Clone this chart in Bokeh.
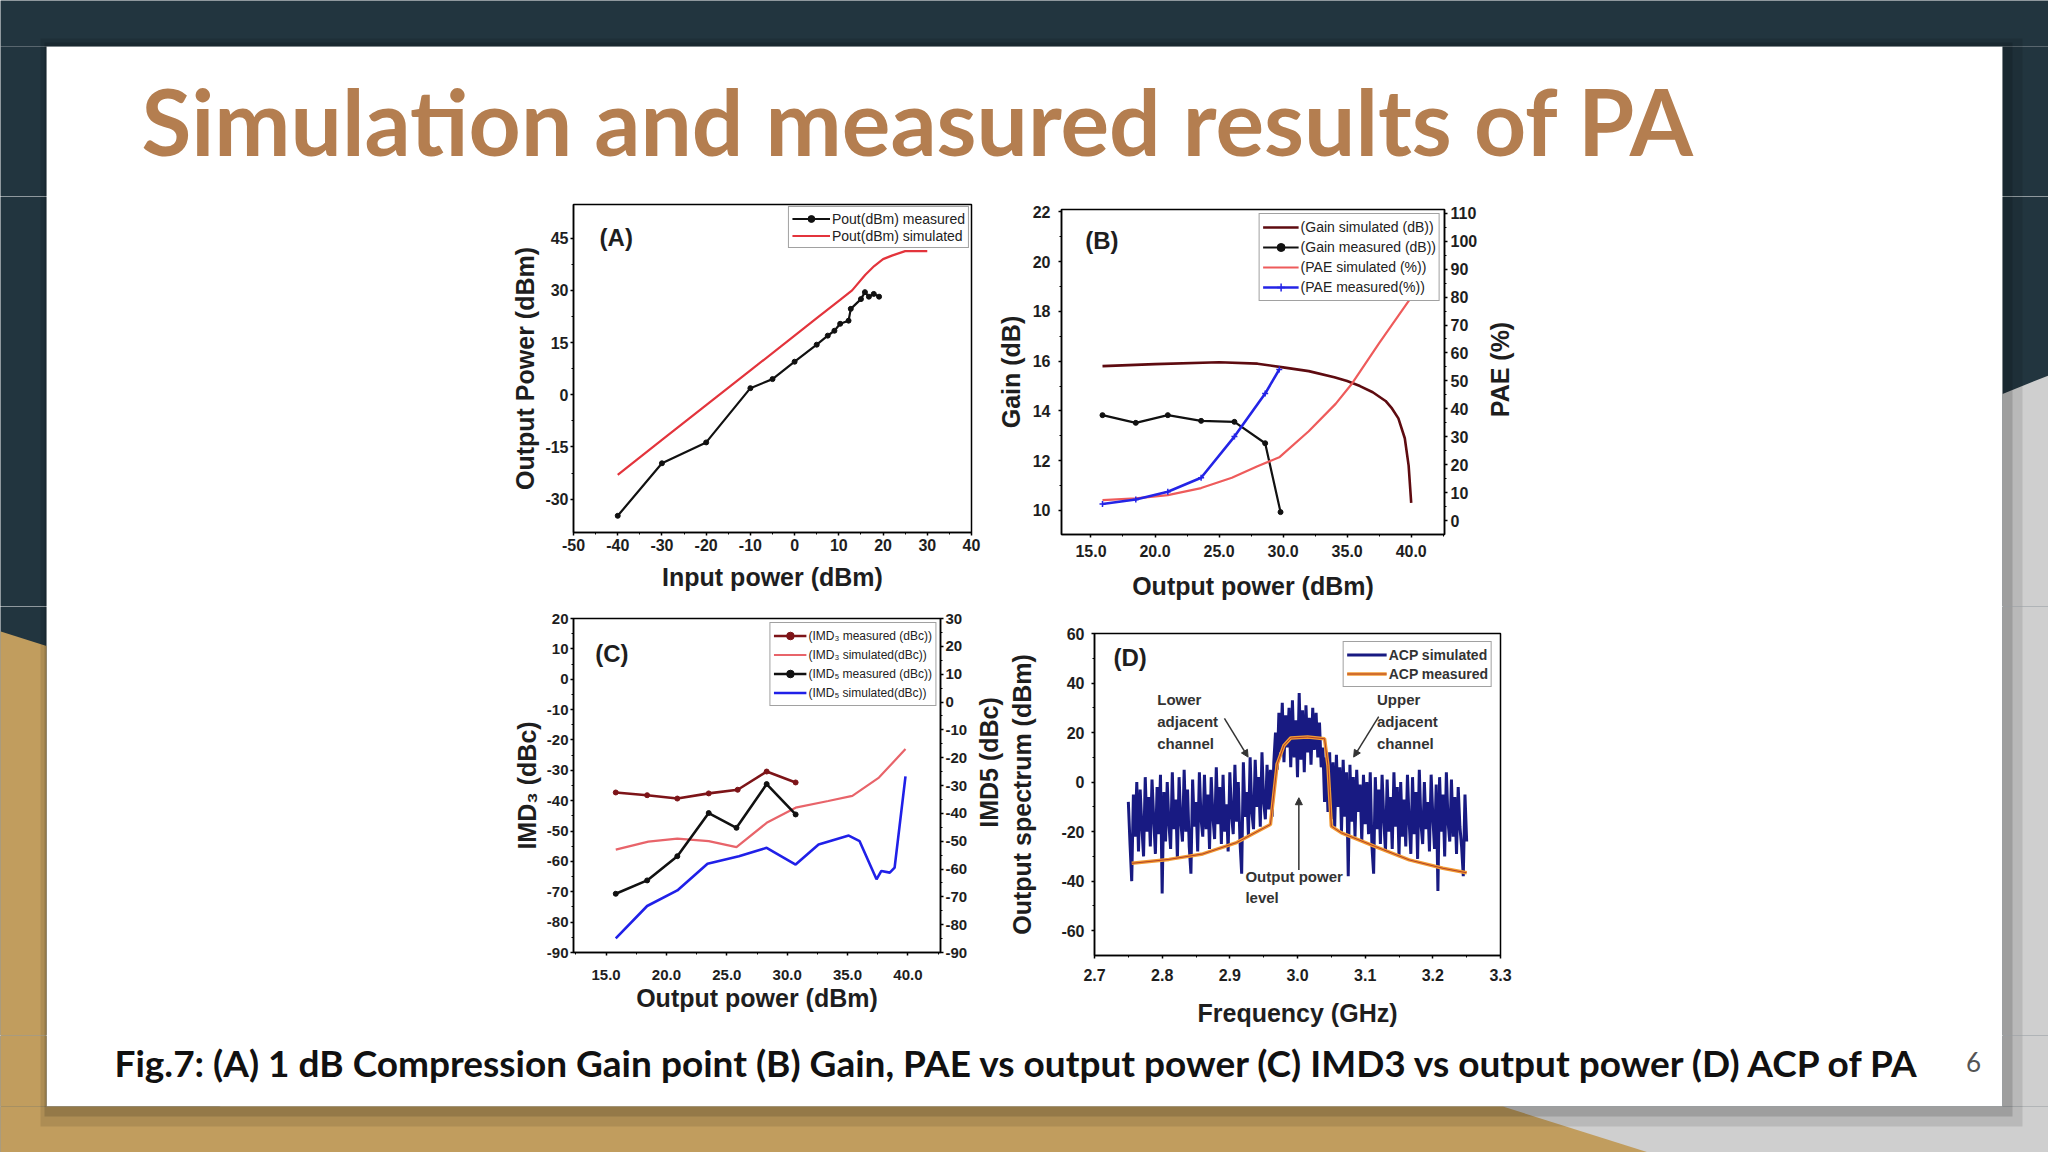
import math
from bokeh.plotting import figure
from bokeh.models import (Range1d, LinearAxis, Label, Legend, LegendItem, Arrow,
                          NormalHead, FixedTicker, NumeralTickFormatter)
from bokeh.layouts import column, row
from bokeh.embed import file_html
from bokeh.resources import INLINE

# ---------------- data ----------------
# (A) output power vs input power
a_in_meas = [-40, -30, -20, -10, -5, 0, 5, 7.5, 9, 10.3, 12.2, 12.7, 15, 15.9, 16.8, 17.9, 19.1]
a_out_meas = [-34.8, -19.7, -13.7, 1.9, 4.5, 9.5, 14.4, 17.0, 18.4, 20.4, 21.3, 24.7, 27.5, 29.5, 28.2, 29.0, 28.2]
a_in_sim = [-40, -30, -20, -10, 0, 5, 10, 13, 16, 18, 20, 22, 25, 30]
a_out_sim = [-23, -13, -3, 7, 17, 22, 27, 30, 34.5, 37, 39, 40, 41.3, 41.3]

# (B) gain / PAE vs output power
b_x_gsim = [15.9, 20, 25, 28, 30, 32, 34, 35, 36, 37, 38, 38.5, 39, 39.5, 39.8, 40.0]
b_gsim = [15.8, 15.88, 15.96, 15.9, 15.75, 15.6, 15.35, 15.2, 15.0, 14.75, 14.4, 14.1, 13.7, 12.9, 11.8, 10.3]
b_x_gmeas = [15.9, 18.5, 21.0, 23.6, 26.2, 28.6, 29.8]
b_gmeas = [13.83, 13.52, 13.83, 13.6, 13.56, 12.7, 9.93]
b_x_psim = [15.9, 18.5, 21.0, 23.6, 26.0, 28.0, 29.7, 32.0, 34.1, 35.4, 37.5, 40.0]
b_psim = [7.4, 8.0, 9.2, 11.7, 15.4, 19.5, 22.7, 32.0, 41.8, 49.2, 63.5, 79.9]
b_x_pmeas = [15.9, 18.5, 21.0, 23.6, 26.2, 28.6, 29.7]
b_pmeas = [6.0, 7.6, 10.4, 15.4, 30.1, 45.5, 54.1]

# (C) IMD3 / IMD5 vs output power
c_x_imd3m = [15.8, 18.4, 20.9, 23.5, 25.9, 28.3, 30.7]
c_imd3m = [-37.3, -38.2, -39.3, -37.6, -36.4, -30.4, -34.0]
c_x_imd3s = [15.8, 18.5, 20.9, 23.5, 25.8, 28.3, 30.7, 33.4, 35.4, 37.6, 39.8]
c_imd3s = [-56.1, -53.5, -52.5, -53.3, -55.3, -47.3, -42.3, -40.1, -38.4, -32.4, -23.0]
c_x_imd5m = [15.8, 18.4, 20.9, 23.5, 25.8, 28.3, 30.7]
c_imd5m = [-68.9, -64.1, -55.4, -39.9, -45.2, -29.5, -40.4]
c_x_imd5s = [15.8, 18.4, 20.9, 23.4, 26.0, 28.3, 30.7, 32.6, 35.1, 36.0, 37.4, 37.8, 38.5, 38.9, 39.8]
c_imd5s = [-84.9, -73.3, -67.7, -58.1, -55.4, -52.4, -58.4, -51.2, -48.0, -50.0, -63.7, -60.7, -61.3, -59.5, -26.7]

# (D) ACP spectrum (2.75 .. 3.25 GHz, 0.0025 GHz sampling)
d_f_start, d_f_step = 2.75, 0.0025
d_acp_sim = [
    -8, -25, -40, -5, -22, 0, -28, -3, -18, -30,
    2, -20, -6, -26, 1, -15, -29, -2, -21, 3,
    -45, -4, -24, 0, -17, -27, 4, -19, -7, -31,
    2, -16, -24, 5, -20, -3, -26, -37, 1, -18,
    -8, -28, 4, -15, -22, 3, -19, -5, -27, 2,
    -14, -23, 6, -17, -2, -25, 3, -20, -9, -28,
    4, -13, -21, 7, -16, 0, -24, -37, 8, -14,
    -4, -22, 10, -12, -19, 9, -10, 2, -18, 12,
    -8, -15, 7, -11, 5, -14, 8, 20, 5, 28,
    12, 32, 8, 27, 14, 30, 6, 33, 10, 25,
    2, 36, 9, 29, 4, 31, 12, 26, 7, 30,
    13, 28, 10, 24, 6, 14, -8, 10, -12, 12,
    -15, 8, -18, 11, -10, 6, -20, 9, -14, 4,
    -38, 7, -16, 2, -22, 5, -12, -1, -24, 3,
    -17, 0, -21, 4, -26, -37, 2, -19, -3, -25,
    3, -15, -28, 1, -20, -6, -27, 4, -18, -2,
    -30, 0, -22, -7, -26, 3, -16, -29, 2, -21,
    -4, -31, 5, -17, -25, 0, -19, -8, -28, 3,
    -14, -27, -1, -44, 2, -20, -5, -30, 4, -16,
    -24, 1, -22, -6, -29, -2, -18, -26, -38, -5,
    -24,
]
d_freq = [round(d_f_start + d_f_step * i, 4) for i in range(len(d_acp_sim))]
d_x_meas = [2.755, 2.81, 2.86, 2.91, 2.96, 2.97, 2.98, 2.99, 3.015, 3.04, 3.045, 3.05, 3.065, 3.115, 3.165, 3.215, 3.25]
d_meas = [-32.8, -31.2, -29.0, -24.4, -17.1, 7.3, 14.8, 17.8, 18.2, 17.5, 6.7, -17.8, -20.5, -26.0, -31.4, -34.8, -36.6]

TITLE = "Simulation and measured results of PA"
CAPTION = ("Fig.7: (A) 1 dB Compression Gain point (B) Gain, PAE vs output power "
           "(C) IMD3 vs output power (D) ACP of PA")

# ---------------- slide decoration (page pixel space) ----------------
FONT = "Liberation Sans"
NAVY = "#22353f"
GOLD = "#c19d5e"
GRAY = "#cfcfcf"
CL, CR, CT, CB = 46, 2002, 46, 1106          # white card
GOLD_LINE = ((0, 631), (1648, 1152))        # navy/gold edge
GRAY_LINE = ((105, 1152), (2048, 375))      # navy/gray edge


def _y_on(line, x):
    (xa, ya), (xb, yb) = line
    return ya + (yb - ya) * (x - xa) / (xb - xa)


def _x_on(line, y):
    (xa, ya), (xb, yb) = line
    return xa + (xb - xa) * (y - ya) / (yb - ya)


def no_align(p):
    try:
        p.frame_align = False
    except Exception:
        pass


def bg_fig(x0, x1, y0, y1):
    p = figure(width=x1 - x0, height=y1 - y0, x_range=Range1d(x0, x1), y_range=Range1d(y1, y0),
               x_axis_type=None, y_axis_type=None, toolbar_location=None, output_backend="svg",
               min_border=0, min_border_left=0, min_border_right=0, min_border_top=0, min_border_bottom=0)
    no_align(p)
    p.outline_line_color = None
    p.background_fill_color = "white"
    p.border_fill_color = "white"
    E0, E1, F1 = -10, 2060, 1160
    # navy strips around the card only (the card itself is never painted)
    p.quad(left=[E0, E0, CR, E0], right=[E1, CL, E1, E1], top=[E0, CT, CT, CB],
           bottom=[CT, CB, CB, F1], fill_color=NAVY, line_color=None)
    # gray region (right strip + bottom strip)
    p.patch([CR, E1, E1, CR], [_y_on(GRAY_LINE, CR), _y_on(GRAY_LINE, E1), CB, CB],
            fill_color=GRAY, line_color=None)
    p.patch([_x_on(GRAY_LINE, CB), E1, E1, _x_on(GRAY_LINE, F1)], [CB, CB, F1, F1],
            fill_color=GRAY, line_color=None)
    # gold region (left strip + bottom strip)
    p.patch([E0, CL, CL, E0], [_y_on(GOLD_LINE, E0), _y_on(GOLD_LINE, CL), CB, CB],
            fill_color=GOLD, line_color=None)
    p.patch([E0, _x_on(GOLD_LINE, CB), _x_on(GOLD_LINE, F1), E0], [CB, CB, F1, F1],
            fill_color=GOLD, line_color=None)
    # soft card shadow, only outside the card
    for (l, r, t, b), a in (((40, 2022, 38, 1126), 0.10), ((44, 2012, 42, 1116), 0.14)):
        p.quad(left=[l, l, CR, l], right=[r, CL, r, r], top=[t, CT, CT, CB],
               bottom=[CT, CB, CB, b], fill_color="black", fill_alpha=a, line_color=None)
    return p


def panel(x0, x1, y0, y1, fl, fr, ft, fb, xr, yr):
    p = figure(width=x1 - x0, height=y1 - y0, x_range=Range1d(*xr), y_range=Range1d(*yr),
               x_axis_type=None, y_axis_type=None, toolbar_location=None, output_backend="svg",
               min_border_left=fl - x0, min_border_right=x1 - fr,
               min_border_top=ft - y0, min_border_bottom=y1 - fb)
    no_align(p)
    p.background_fill_color = "white"
    p.border_fill_color = "white"
    p.outline_line_color = "black"
    p.outline_line_width = 1.5
    return p


def make_axis(ticks, minor, fmt, label, tick_std, lab_std, size="16px", yname=None):
    kw = {}
    if yname:
        kw["y_range_name"] = yname
    ax = LinearAxis(**kw)
    ax.ticker = FixedTicker(ticks=ticks, minor_ticks=minor)
    ax.formatter = NumeralTickFormatter(format=fmt)
    ax.major_label_text_font = FONT
    ax.major_label_text_font_size = size
    ax.major_label_text_font_style = "bold"
    ax.major_label_text_color = "#1e1e1e"
    ax.axis_line_color = "black"
    ax.axis_line_width = 1.5
    ax.major_tick_line_color = "black"
    ax.major_tick_line_width = 1.5
    ax.minor_tick_line_color = "black"
    ax.major_tick_out = 3
    ax.major_tick_in = 0
    ax.minor_tick_out = 2
    ax.minor_tick_in = 0
    ax.major_label_standoff = tick_std
    if label:
        ax.axis_label = label
        ax.axis_label_standoff = lab_std
        ax.axis_label_text_font = FONT
        ax.axis_label_text_font_size = "25px"
        ax.axis_label_text_font_style = "bold"
        ax.axis_label_text_color = "#1e1e1e"
    return ax


def side_title(p, x, y, text):
    p.add_layout(Label(x=x, y=y, text=text, angle=math.pi / 2, text_font=FONT,
                       text_font_size="25px", text_font_style="bold", text_color="#1e1e1e",
                       text_align="center", text_baseline="middle"))


def style_legend(leg, size, gw, lh, bold=False, margin=3):
    leg.location = "top_right"
    leg.margin = margin
    leg.padding = 3
    leg.spacing = 0
    leg.label_standoff = 2
    leg.glyph_width = gw
    leg.glyph_height = lh
    leg.label_height = lh
    leg.label_text_font = FONT
    leg.label_text_font_size = size
    leg.label_text_color = "#222"
    if bold:
        leg.label_text_font_style = "bold"
    leg.border_line_color = "#444"
    leg.border_line_width = 1
    leg.background_fill_color = "white"
    leg.background_fill_alpha = 1.0


def tag(p, x, y, text):
    p.add_layout(Label(x=x, y=y, text=text, text_font=FONT, text_font_size="24px",
                       text_font_style="bold", text_color="#1e1e1e", text_baseline="middle"))


def half(ticks):
    return [(ticks[i] + ticks[i + 1]) / 2 for i in range(len(ticks) - 1)]


# ---------------- panel A ----------------
pA = panel(500, 990, 196, 606, 573, 971, 204, 532, (-50, 40), (-39.6, 54.7))
xa = [-50, -40, -30, -20, -10, 0, 10, 20, 30, 40]
ya = [-30, -15, 0, 15, 30, 45]
pA.add_layout(make_axis(xa, half(xa), "0", "Input power (dBm)", 3, 9), "below")
pA.add_layout(make_axis(ya, half(ya), "0", "Output Power (dBm)", 2, 3), "left")
ra1 = pA.line(a_in_sim, a_out_sim, line_color="#e3343c", line_width=2.2)
ra2 = pA.line(a_in_meas, a_out_meas, line_color="#111111", line_width=2.2)
ra3 = pA.scatter(a_in_meas, a_out_meas, marker="circle", size=5, color="#111111")
legA = Legend(items=[LegendItem(label="Pout(dBm) measured", renderers=[ra2, ra3]),
                     LegendItem(label="Pout(dBm) simulated", renderers=[ra1])])
style_legend(legA, "14px", 38, 17, margin=2)
pA.add_layout(legA)
tag(pA, -44.1, 45.2, "(A)")

# ---------------- panel B ----------------
pB = panel(990, 1480, 196, 606, 1061, 1444, 209, 534, (12.7, 42.6), (9.03, 22.1))
pB.extra_y_ranges = {"pae": Range1d(-4.9, 111.3)}
xb = [15, 20, 25, 30, 35, 40]
yb = [10, 12, 14, 16, 18, 20, 22]
yb2 = list(range(0, 111, 10))
pB.add_layout(make_axis(xb, [12.5] + half(xb) + [42.5], "0.0", "Output power (dBm)", 7, 12), "below")
pB.add_layout(make_axis(yb, half(yb), "0", "Gain (dB)", 8, 5), "left")
pB.add_layout(make_axis(yb2, half(yb2), "0", None, 3, 0, yname="pae"), "right")
rb1 = pB.line(b_x_gsim, b_gsim, line_color="#5e0b10", line_width=2.6)
rb2 = pB.line(b_x_gmeas, b_gmeas, line_color="#111111", line_width=2.2)
rb3 = pB.scatter(b_x_gmeas, b_gmeas, marker="circle", size=5, color="#111111")
rb4 = pB.line(b_x_psim, b_psim, line_color="#ee5b5b", line_width=2.2, y_range_name="pae")
rb5 = pB.line(b_x_pmeas, b_pmeas, line_color="#2424e6", line_width=2.6, y_range_name="pae")
rb6 = pB.scatter(b_x_pmeas, b_pmeas, marker="cross", size=6, line_color="#2424e6", line_width=1.5,
                 y_range_name="pae")
legB = Legend(items=[LegendItem(label="(Gain simulated (dB))", renderers=[rb1]),
                     LegendItem(label="(Gain measured (dB))", renderers=[rb2, rb3]),
                     LegendItem(label="(PAE simulated (%))", renderers=[rb4]),
                     LegendItem(label="(PAE measured(%))", renderers=[rb5, rb6])])
style_legend(legB, "14px", 36, 20, margin=4)
pB.add_layout(legB)
tag(pB, 14.55, 20.85, "(B)")

# ---------------- panel C ----------------
pC = panel(495, 972, 606, 1035, 573, 940, 618, 952, (12.3, 42.7), (-90, 20))
pC.extra_y_ranges = {"imd5": Range1d(-90, 30)}
xc = [15, 20, 25, 30, 35, 40]
yc = list(range(-90, 21, 10))
yc2 = list(range(-90, 31, 10))
pC.add_layout(make_axis(xc, [12.5] + half(xc) + [42.5], "0.0", "Output power (dBm)", 14, 1, size="15px"), "below")
pC.add_layout(make_axis(yc, half(yc), "0", "IMD\u2083 (dBc)", 2, 3, size="15px"), "left")
pC.add_layout(make_axis(yc2, half(yc2), "0", None, 2, 0, size="15px", yname="imd5"), "right")
rc1 = pC.line(c_x_imd3m, c_imd3m, line_color="#7d1418", line_width=2.6)
rc2 = pC.scatter(c_x_imd3m, c_imd3m, marker="circle", size=5, color="#7d1418")
rc3 = pC.line(c_x_imd3s, c_imd3s, line_color="#e8646a", line_width=2.2)
rc4 = pC.line(c_x_imd5m, c_imd5m, line_color="#111111", line_width=2.6, y_range_name="imd5")
rc5 = pC.scatter(c_x_imd5m, c_imd5m, marker="circle", size=5, color="#111111", y_range_name="imd5")
rc6 = pC.line(c_x_imd5s, c_imd5s, line_color="#2020e8", line_width=2.6, y_range_name="imd5")
legC = Legend(items=[LegendItem(label="(IMD\u2083 measured (dBc))", renderers=[rc1, rc2]),
                     LegendItem(label="(IMD\u2083 simulated(dBc))", renderers=[rc3]),
                     LegendItem(label="(IMD\u2085 measured (dBc))", renderers=[rc4, rc5]),
                     LegendItem(label="(IMD\u2085 simulated(dBc))", renderers=[rc6])])
style_legend(legC, "12px", 33, 19, margin=4)
pC.add_layout(legC)
tag(pC, 14.1, 8.4, "(C)")

# ---------------- panel D ----------------
pD = panel(1005, 1530, 606, 1035, 1091, 1500, 633, 955, (2.7, 3.3), (-70, 60))
xd = [2.7, 2.8, 2.9, 3.0, 3.1, 3.2, 3.3]
yd = [-60, -40, -20, 0, 20, 40, 60]
pD.add_layout(make_axis(xd, half(xd), "0.0", "Frequency (GHz)", 10, 15), "below")
pD.add_layout(make_axis(yd, half(yd), "0", "Output spectrum (dBm)", 7, 22), "left")
rd1 = pD.line(d_freq, d_acp_sim, line_color="#181a82", line_width=3.0, line_join="miter")
rd2 = pD.line(d_x_meas, d_meas, line_color="#f29b33", line_width=3.5)
rd3 = pD.line(d_x_meas, d_meas, line_color="#b0402a", line_width=1)
legD = Legend(items=[LegendItem(label="ACP simulated", renderers=[rd1]),
                     LegendItem(label="ACP measured", renderers=[rd2, rd3])])
style_legend(legD, "14px", 40, 19, bold=True, margin=8)
legD.label_text_color = "#333"
pD.add_layout(legD)
tag(pD, 2.728, 50.2, "(D)")

ann_kw = dict(text_font=FONT, text_font_size="15px", text_font_style="bold",
              text_color="#333333", text_baseline="middle")
for txt, yy in (("Lower", 33.2), ("adjacent", 24.4), ("channel", 15.5)):
    pD.add_layout(Label(x=2.7927, y=yy, text=txt, **ann_kw))
for txt, yy in (("Upper", 33.2), ("adjacent", 24.4), ("channel", 15.5)):
    pD.add_layout(Label(x=3.1175, y=yy, text=txt, **ann_kw))
pD.add_layout(Label(x=2.923, y=-38.2, text="Output power", **ann_kw))
pD.add_layout(Label(x=2.923, y=-46.4, text="level", **ann_kw))
for xs, ys, xe, ye in ((2.892, 25.7, 2.927, 10.1), (3.12, 26.4, 3.083, 10.1), (3.002, -35.5, 3.002, -6.3)):
    pD.add_layout(Arrow(end=NormalHead(size=7, fill_color="#333333", line_color="#333333"),
                        x_start=xs, y_start=ys, x_end=xe, y_end=ye,
                        line_color="#333333", line_width=1.5))

# ---------------- slide frame ----------------
top = bg_fig(0, 2048, 0, 196)
top.add_layout(Label(x=141, y=120, text=TITLE, text_font="Lato", text_font_size="91px",
                     text_font_style="bold", text_color="#b47e50", text_baseline="middle"))
bot = bg_fig(0, 2048, 1035, 1152)
bot.add_layout(Label(x=114, y=1062, text=CAPTION, text_font="Lato", text_font_size="37px",
                     text_font_style="bold", text_color="#111111", text_baseline="middle"))
bot.add_layout(Label(x=1973, y=1061, text="6", text_font="Lato", text_font_size="26px",
                     text_color="#555555", text_baseline="middle", text_align="center"))

fL1 = bg_fig(0, 500, 196, 606)
fR1 = bg_fig(1480, 2048, 196, 606)
side_title(fR1, 1499.6, 369, "PAE (%)")
fL2 = bg_fig(0, 495, 606, 1035)
gapC = bg_fig(972, 1005, 606, 1035)
side_title(gapC, 988, 762, "IMD5 (dBc)")
fR2 = bg_fig(1530, 2048, 606, 1035)

page = column(top,
              row(fL1, pA, pB, fR1, spacing=0),
              row(fL2, pC, gapC, pD, fR2, spacing=0),
              bot, spacing=0)

open("out.html", "w").write(file_html(page, INLINE))
